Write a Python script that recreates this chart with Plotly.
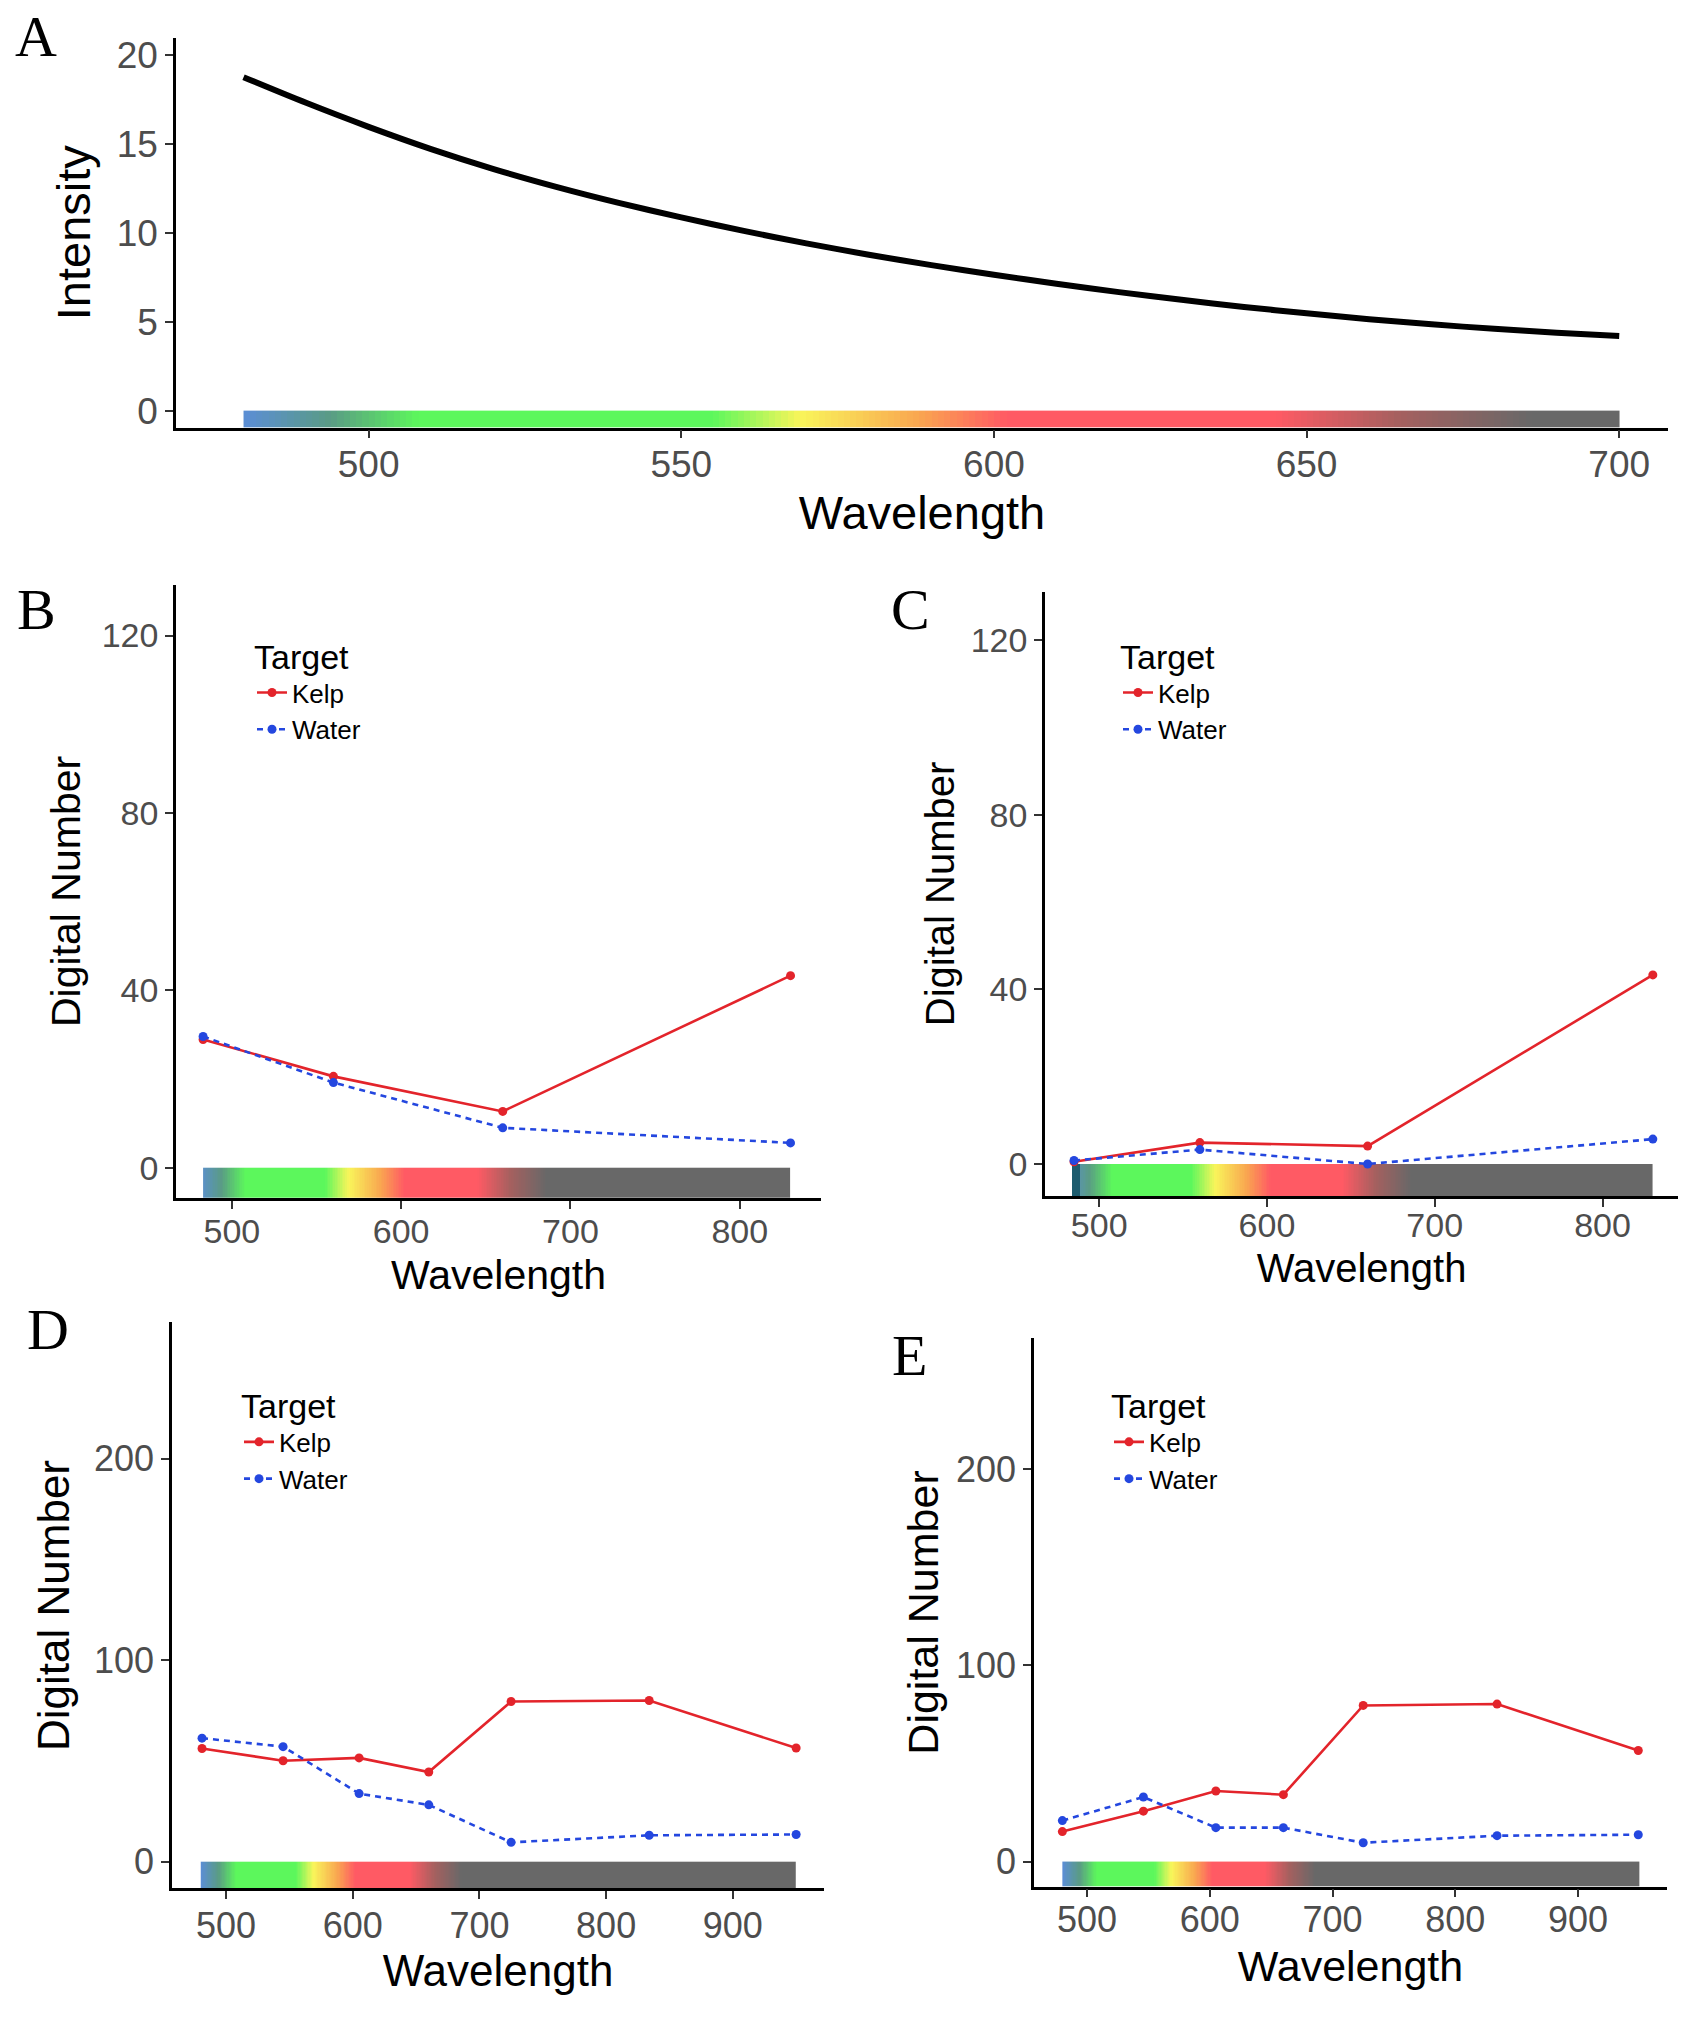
import numpy as np
import plotly.graph_objects as go

W, H = 1702, 2036

# ---------------- data ----------------
A_WAVELENGTH = [480, 490, 500, 510, 520, 530, 540, 550, 560, 570, 580, 590,
                600, 610, 620, 630, 640, 650, 660, 670, 680, 690, 700]
A_INTENSITY = [18.74, 17.30, 15.95, 14.70, 13.58, 12.58, 11.68, 10.86, 10.10, 9.40, 8.76, 8.18,
               7.64, 7.13, 6.66, 6.23, 5.83, 5.47, 5.14, 4.85, 4.60, 4.38, 4.19]

B_WAVELENGTH = [483, 560, 660, 830]
B_KELP = [28.9, 20.6, 12.7, 43.3]
B_WATER = [29.6, 19.2, 9.0, 5.6]

C_WAVELENGTH = [485, 560, 660, 830]
C_KELP = [0.5, 4.9, 4.1, 43.3]
C_WATER = [0.8, 3.3, 0.0, 5.7]

D_WAVELENGTH = [481, 545, 605, 660, 725, 834, 950]
D_KELP = [56.2, 50.1, 51.5, 44.5, 79.5, 80.0, 56.4]
D_WATER = [61.3, 57.1, 33.8, 28.2, 9.6, 13.1, 13.5]

E_WAVELENGTH = [480, 546, 605, 660, 725, 834, 949]
E_KELP = [15.3, 25.7, 36.0, 34.1, 79.6, 80.3, 56.6]
E_WATER = [20.9, 32.9, 17.3, 17.3, 9.6, 13.2, 13.7]

TARGETS = ["Kelp", "Water"]

# spectrum colour bar (wavelength -> colour)
SPECTRUM_NM = [480, 494, 508, 555, 569, 588, 602, 645, 665, 686, 950]
SPECTRUM_COLORS = ["#5b8dd6", "#5a9c84", "#5cf75c", "#5cf75c", "#f9f55a",
                   "#f9a650", "#ff5a64", "#ff5a64", "#a4605f", "#686868", "#686868"]
# extent of the colour bar in each panel (nm)
BAR_EXTENT = {"A": (480, 700), "B": (483, 830), "C": (488.3, 830),
              "D": (480, 950), "E": (480, 950)}
C_STRIP = (484.0, 488.3)   # dark teal strip at the start of panel C bar
C_STRIP_COLOR = "#1d5c6e"

KELP_COLOR = "#e3242b"
WATER_COLOR = "#2447df"

# ---------------- layout geometry ----------------
def px_x(p):
    return p / W

def px_y(p):
    return 1 - p / H

PANELS = {
    #     x-domain px     y-domain px (top, bottom)  xrange             yrange            xticks                       yticks
    "A": ((176, 1668), (35, 426), [469.2, 707.8], [-0.95, 20.95], [500, 550, 600, 650, 700], [0, 5, 10, 15, 20]),
    "B": ((176, 821), (584, 1199), [467.0, 848.0], [-6.8, 131.4], [500, 600, 700, 800], [0, 40, 80, 120]),
    "C": ((1045, 1678), (591, 1197), [467.7, 845.0], [-7.3, 131.0], [500, 600, 700, 800], [0, 40, 80, 120]),
    "D": ((172, 824), (1324, 1892), [457.3, 972.0], [-13.3, 267.6], [500, 600, 700, 800, 900], [0, 100, 200]),
    "E": ((1034, 1667), (1340, 1890), [456.9, 972.4], [-12.7, 266.7], [500, 600, 700, 800, 900], [0, 100, 200]),
}
AXIS_IDS = {"A": "", "B": "2", "C": "3", "D": "4", "E": "5"}
TICK_FONT = {"A": 37, "B": 34, "C": 34, "D": 36, "E": 36}
TITLE_FONT = {"A": 47, "B": 41, "C": 40, "D": 44, "E": 43}
YTITLE = {"A": "Intensity", "B": "Digital Number", "C": "Digital Number",
          "D": "Digital Number", "E": "Digital Number"}
X_LABEL_SHIFT = {"A": -6, "B": -6, "C": -10, "D": -4, "E": -9}
X_STANDOFF = {"A": 13, "B": 11, "C": 11, "D": 9, "E": 13}
Y_STANDOFF = {"A": 12, "B": 9, "C": 4, "D": 11, "E": 4}

FONT = "Liberation Sans, Arial, sans-serif"

fig = go.Figure()

colorscale = [[(nm - 480) / (950 - 480), c] for nm, c in zip(SPECTRUM_NM, SPECTRUM_COLORS)]


def add_bar(panel):
    sid = AXIS_IDS[panel]
    x0, x1 = BAR_EXTENT[panel]
    n = int(round(x1 - x0))
    edges = np.linspace(x0, x1, n + 1)
    mids = (edges[:-1] + edges[1:]) / 2
    ymin = PANELS[panel][3][0]
    fig.add_trace(go.Heatmap(
        x=edges, y=[ymin, 0], z=[mids], zmin=480, zmax=950,
        colorscale=colorscale, showscale=False, hoverinfo="skip",
        xaxis="x" + sid, yaxis="y" + sid))


# Panel A
add_bar("A")
fig.add_trace(go.Scatter(x=A_WAVELENGTH, y=A_INTENSITY, mode="lines",
                         line=dict(color="black", width=6, shape="spline", smoothing=0.8),
                         showlegend=False, xaxis="x", yaxis="y"))

series = {"B": (B_WAVELENGTH, B_KELP, B_WATER), "C": (C_WAVELENGTH, C_KELP, C_WATER),
          "D": (D_WAVELENGTH, D_KELP, D_WATER), "E": (E_WAVELENGTH, E_KELP, E_WATER)}
LEGEND_IDS = {"B": "legend", "C": "legend2", "D": "legend3", "E": "legend4"}

for panel, (wl, kelp, water) in series.items():
    sid = AXIS_IDS[panel]
    add_bar(panel)
    if panel == "C":
        fig.add_trace(go.Bar(x=[(C_STRIP[0] + C_STRIP[1]) / 2], y=[-PANELS["C"][3][0]],
                             base=[PANELS["C"][3][0]], width=[C_STRIP[1] - C_STRIP[0]],
                             marker=dict(color=C_STRIP_COLOR, line=dict(width=0)),
                             showlegend=False, hoverinfo="skip", xaxis="x3", yaxis="y3"))
    for name, vals, col, dash in ((TARGETS[0], kelp, KELP_COLOR, "solid"),
                                  (TARGETS[1], water, WATER_COLOR, "6px,5px")):
        fig.add_trace(go.Scatter(
            x=wl, y=vals, mode="lines+markers", name=name,
            line=dict(color=col, width=2.6, dash=dash),
            marker=dict(color=col, size=9),
            legend=LEGEND_IDS[panel], xaxis="x" + sid, yaxis="y" + sid))

layout = dict(width=W, height=H, margin=dict(l=0, r=0, t=0, b=0),
              paper_bgcolor="white", plot_bgcolor="white",
              font=dict(family=FONT, color="black"), bargap=0)

for panel, (xd, yd, xr, yr, xt, yt) in PANELS.items():
    sid = AXIS_IDS[panel]
    common = dict(showline=True, linecolor="black", linewidth=2.6, showgrid=False,
                  zeroline=False, ticks="outside", ticklen=8, tickwidth=2,
                  tickcolor="#333333",
                  tickfont=dict(family=FONT, size=TICK_FONT[panel], color="#4d4d4d"))
    layout["xaxis" + sid] = dict(common, domain=[px_x(xd[0]), px_x(xd[1])], range=xr,
                                 tickvals=xt, anchor="y" + sid,
                                 ticklabelstandoff=X_LABEL_SHIFT[panel],
                                 title=dict(text="Wavelength", standoff=X_STANDOFF[panel],
                                            font=dict(family=FONT, size=TITLE_FONT[panel], color="black")))
    layout["yaxis" + sid] = dict(common, domain=[px_y(yd[1]), px_y(yd[0])], range=yr,
                                 tickvals=yt, anchor="x" + sid,
                                 title=dict(text=YTITLE[panel], standoff=Y_STANDOFF[panel],
                                            font=dict(family=FONT, size=TITLE_FONT[panel], color="black")))

LEGEND_POS = {"B": (252, 624), "C": (1118, 624), "D": (239, 1376), "E": (1109, 1376)}
for panel, lid in LEGEND_IDS.items():
    lx, ly = LEGEND_POS[panel]
    layout[lid] = dict(x=px_x(lx), y=px_y(ly), xanchor="left", yanchor="top",
                       bgcolor="rgba(0,0,0,0)", tracegroupgap=0,
                       title=dict(text="Target", font=dict(family=FONT, size=34, color="black")),
                       font=dict(family=FONT, size=26, color="black"))

LETTERS = [("A", 13, 34), ("B", 15, 609), ("C", 889, 609), ("D", 25, 1331), ("E", 890, 1357)]
annotations = []
for text, lx, ly in LETTERS:
    annotations.append(dict(text=text, x=px_x(lx), y=px_y(ly), xref="paper", yref="paper",
                            xanchor="left", yanchor="middle", showarrow=False,
                            font=dict(family="Liberation Serif, Times New Roman, serif", size=58, color="black")))
layout["annotations"] = annotations

fig.update_layout(**layout)
fig.write_html("out.html")
